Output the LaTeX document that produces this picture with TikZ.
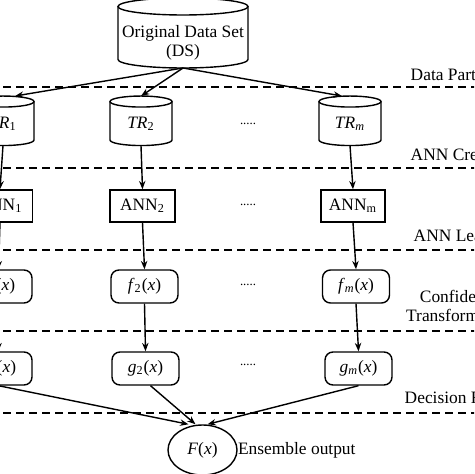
\documentclass[tikz,border=0pt]{standalone}
\usepackage{fontspec}
\setmainfont{Liberation Serif}
\usetikzlibrary{positioning,shapes.geometric,arrows.meta}

% outline of an upright data cylinder round a node: node, x radius, y radius
\newcommand{\cylinderlines}[3]{%
  \draw ([yshift=-#3]#1.north west) -- ([yshift=#3]#1.south west)
    arc[start angle=180, end angle=360, x radius=#2, y radius=#3]
    -- ([yshift=-#3]#1.north east);
  \draw ([yshift=-#3]#1.north) ellipse[x radius=#2, y radius=#3];
}

\begin{document}
\begin{tikzpicture}[x=1pt, y=1pt, line width=0.7pt,
  font=\fontsize{8.7}{10.4}\selectfont,
  >={Stealth[length=4.2pt, width=3.2pt]},
  cyl/.style={minimum width=31pt, minimum height=24.75pt, inner sep=0pt, outer sep=0pt, text height=8.2pt, text depth=0pt},
  annbox/.style={draw, minimum width=32.5pt, minimum height=16pt, inner sep=0pt},
  fbox/.style={draw, rounded corners=4pt, minimum width=33.5pt, minimum height=16.5pt, inner sep=0pt},
  layer/.style={dash pattern=on 4pt off 2.5pt, line width=0.8pt},
  dotted row/.style={font=\fontsize{6.4}{7}\selectfont, inner sep=0pt},
  lbl/.style={anchor=west, inner sep=0pt}]

\useasboundingbox (0,0) rectangle (237,-237);
\clip (0,0) rectangle (237,-237);

% data set
\node[cyl, minimum width=65pt, minimum height=35pt] (ds) at (91.5,-16.5) {};
\cylinderlines{ds}{32.5pt}{4.25pt}
\node[align=center, inner sep=0pt] (dstext) at (91.5,-21.25) {Original Data Set\\[-0.9pt](DS)};

% layer borders
\draw[layer] (-5,-43.5) -- (245,-43.5);
\draw[layer] (-5,-84) -- (245,-84);
\draw[layer] (-5,-125) -- (245,-125);
\draw[layer] (-5,-165.5) -- (245,-165.5);
\draw[layer] (-5,-206.5) -- (245,-206.5);

% training sets
\node[cyl] (tr1) at (1.5,-60.4) {\textit{TR}\textsubscript{1}};
\node[cyl] (tr2) at (70.5,-60.4) {\textit{TR}\textsubscript{2}};
\node[cyl] (trm) at (175,-60.4) {\textit{TR}\textsubscript{\textit{m}}};
\cylinderlines{tr1}{15.5pt}{2.75pt}
\cylinderlines{tr2}{15.5pt}{2.75pt}
\cylinderlines{trm}{15.5pt}{2.75pt}
\node[dotted row] (dots1) at (124,-62) {.....};

% networks
\node[annbox] (ann1) at (0,-103) {ANN\textsubscript{1}};
\node[annbox] (ann2) at (71.25,-103) {ANN\textsubscript{2}};
\node[annbox, minimum width=32pt] (annm) at (176.5,-103) {ANN\textsubscript{m}};
\node[dotted row] (dots2) at (124,-102.5) {.....};

% outputs
\node[fbox] (f1) at (-0.75,-143.25) {\textit{f}\textsubscript{1}(\textit{x})};
\node[fbox] (f2) at (72.25,-143.25) {\textit{f}\textsubscript{2}(\textit{x})};
\node[fbox] (fm) at (178,-143.25) {\textit{f}\textsubscript{\textit{m}}(\textit{x})};
\node[dotted row] (dots3) at (124,-142.5) {.....};

% transformed outputs
\node[fbox] (g1) at (-0.75,-184.25) {\textit{g}\textsubscript{1}(\textit{x})};
\node[fbox] (g2) at (72.75,-184.25) {\textit{g}\textsubscript{2}(\textit{x})};
\node[fbox] (gm) at (179.25,-184.25) {\textit{g}\textsubscript{\textit{m}}(\textit{x})};
\node[dotted row] (dots4) at (124,-182.5) {.....};

% ensemble
\node[ellipse, draw, minimum width=34.5pt, minimum height=25pt, inner sep=0pt] (F) at (101.25,-225) {\textit{F}(\textit{x})};
\node[right=-3.5pt of F] (ens) {Ensemble output};

% layer names
\node[lbl] (lpart) at (205,-37.5) {Data Partition};
\node[lbl] (lcreate) at (205,-77.5) {ANN Creation};
\node[lbl] (llearn) at (206.5,-119) {ANN Learning};
\node[align=center, inner sep=0pt] (lconf) at (230,-152.75) {Confidence\\[-0.9pt]Transformation};
\node[lbl] (ldec) at (202,-199) {Decision Fusion};

\draw[->] (ds.south) -- ([xshift=6pt]tr1.north);
\draw[->] (ds.south) -- (tr2.north);
\draw[->] (ds.south) -- ([xshift=-4pt]trm.north);

\draw[->] (tr1.south) -- (ann1.north);
\draw[->] (tr2.south) -- (ann2.north);
\draw[->] (trm.south) -- (annm.north);

\draw[->] (ann1.south) -- (f1.north);
\draw[->] (ann2.south) -- (f2.north);
\draw[->] (annm.south) -- (fm.north);

\draw[->] (f1.south) -- (g1.north);
\draw[->] (f2.south) -- (g2.north);
\draw[->] (fm.south) -- (gm.north);

\draw[->] (g1.south) -- ([xshift=-7pt]F.north);
\draw[->] ([xshift=2.5pt]g2.south) -- ([xshift=-3.5pt]F.north);
\draw[->] (gm.south) -- ([xshift=2.5pt]F.north);
\end{tikzpicture}
\end{document}
